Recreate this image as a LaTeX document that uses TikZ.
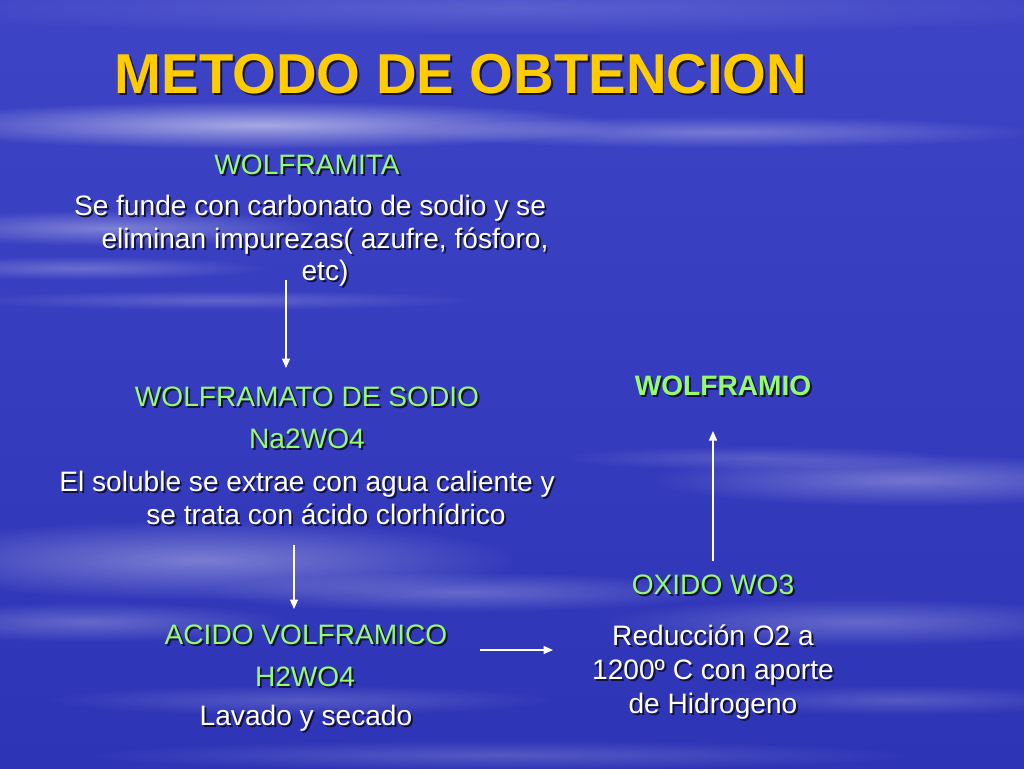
\documentclass[tikz,border=0pt]{standalone}
\usepackage{fontspec}
\setmainfont{Liberation Sans}
\usetikzlibrary{arrows.meta}
\usetikzlibrary{fadings}

\definecolor{skytop}{RGB}{62,68,198}
\definecolor{skymid}{RGB}{34,36,168}
\definecolor{skybot}{RGB}{46,52,182}
\definecolor{labelgreen}{RGB}{150,250,110}
\definecolor{titleyellow}{RGB}{255,204,0}
\definecolor{shadowblue}{RGB}{18,18,60}

% text with a small drop shadow
\newcommand{\shtxt}[1]{\leavevmode\rlap{\hspace{1.1pt}\raisebox{-1.1pt}{\color{shadowblue}#1}}#1}

\tikzfading[name=softstreak, inner color=transparent!0, outer color=transparent!100]

\begin{document}
\begin{tikzpicture}[x=0.02cm,y=-0.02cm]
\tikzset{
    titlefont/.style = {inner sep=0pt, font=\fontsize{32}{36}\selectfont\bfseries, text=titleyellow},
    greenlabel/.style = {inner sep=0pt, font=\fontsize{16}{18.4}\selectfont, text=labelgreen},
    whitetext/.style = {inner sep=0pt, align=center, font=\fontsize{16}{18.4}\selectfont, text=white},
    flow/.style = {draw=white, line width=0.8pt, -{Triangle[length=1.9mm,width=1.6mm]}},
    streak/.style = {fill=white, path fading=softstreak}
}
\useasboundingbox (0,0) rectangle (1024,768);
% background sky
\fill[top color=skytop, middle color=skymid, bottom color=skybot] (0,0) rectangle (1024,768);
\fill[streak, opacity=0.55] (260,125) ellipse (360 and 24);
\fill[streak, opacity=0.3] (720,132) ellipse (320 and 16);
\fill[streak, opacity=0.15] (512,8) ellipse (620 and 28);
\fill[streak, opacity=0.35] (110,228) ellipse (210 and 18);
\fill[streak, opacity=0.25] (80,268) ellipse (190 and 12);
\fill[streak, opacity=0.2] (220,300) ellipse (260 and 10);
\fill[streak, opacity=0.3] (910,480) ellipse (260 and 26);
\fill[streak, opacity=0.18] (760,458) ellipse (200 and 12);
\fill[streak, opacity=0.35] (200,560) ellipse (320 and 40);
\fill[streak, opacity=0.25] (460,592) ellipse (260 and 20);
\fill[streak, opacity=0.25] (860,622) ellipse (260 and 24);
\fill[streak, opacity=0.25] (90,622) ellipse (200 and 20);
\fill[streak, opacity=0.18] (300,700) ellipse (260 and 15);
\fill[streak, opacity=0.18] (900,700) ellipse (200 and 15);
\fill[streak, opacity=0.18] (500,755) ellipse (420 and 15);

% title
\node[titlefont] (titulo) at (461,75) {\shtxt{METODO DE OBTENCION}};

% left column
\node[greenlabel] (wolframita) at (307,166) {\shtxt{WOLFRAMITA}};
\node[whitetext] (fundido) at (325,242) {\hspace*{-0.6cm}\shtxt{Se funde con carbonato de sodio y se}\\
    \shtxt{eliminan impurezas( azufre, fósforo,}\\ \shtxt{etc)}};
\node[greenlabel] (wolframato) at (307,398) {\shtxt{WOLFRAMATO DE SODIO}};
\node[greenlabel] (na2wo4) at (307,440) {\shtxt{Na2WO4}};
\node[whitetext] (extraccion) at (326,499) {\hspace*{-0.76cm}\shtxt{El soluble se extrae con agua caliente y}\\
    \shtxt{se trata con ácido clorhídrico}};
\node[greenlabel] (acido) at (306,636) {\shtxt{ACIDO VOLFRAMICO}};
\node[greenlabel] (h2wo4) at (305,678) {\shtxt{H2WO4}};
\node[whitetext] (lavado) at (306,719) {\shtxt{Lavado y secado}};

% right column
\node[greenlabel] (oxido) at (713,586) {\shtxt{OXIDO WO3}};
\node[whitetext, font=\fontsize{16}{19.3}\selectfont] (reduccion) at (713,673) {\shtxt{Reducción O2 a}\\
    \shtxt{1200º C con aporte}\\ \shtxt{de Hidrogeno}};
\node[greenlabel, font=\fontsize{16}{18.4}\selectfont\bfseries] (wolframio) at (723,387) {\shtxt{WOLFRAMIO}};

% arrows
\coordinate (a1s) at (286,280);
\coordinate (a1e) at (286,368);
\coordinate (a2s) at (294,545);
\coordinate (a2e) at (294,609);
\coordinate (a3s) at (480,650);
\coordinate (a3e) at (553,650);
\coordinate (a4s) at (713,561);
\coordinate (a4e) at (713,431);
\draw[flow] (a1s) -- (a1e);
\draw[flow] (a2s) -- (a2e);
\draw[flow] (a3s) -- (a3e);
\draw[flow] (a4s) -- (a4e);
\end{tikzpicture}
\end{document}
